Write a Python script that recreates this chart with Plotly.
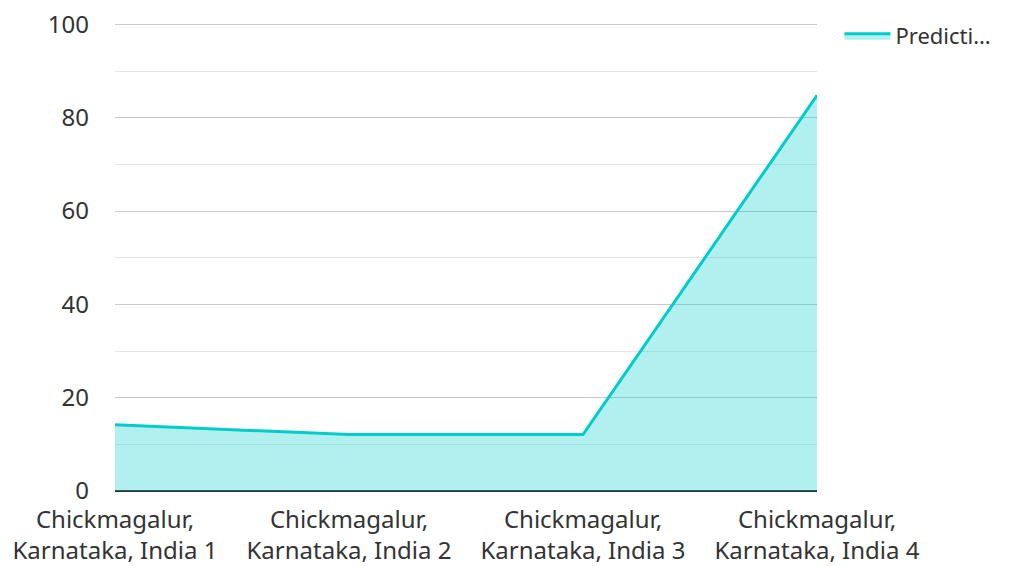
import plotly.graph_objects as go

categories = ["Chickmagalur,<br>Karnataka, India 1", "Chickmagalur,<br>Karnataka, India 2",
              "Chickmagalur,<br>Karnataka, India 3", "Chickmagalur,<br>Karnataka, India 4"]
values = [14.2, 12.1, 12.1, 84.8]
series_name = "Predicti…"
y_ticks = [0, 20, 40, 60, 80, 100]

fig = go.Figure()
fig.add_trace(go.Scatter(
    x=categories, y=values, name=series_name, mode="lines",
    line=dict(color="#00CCCC", width=3),
    fill="tozeroy", fillcolor="rgba(0,204,204,0.3)",
))

# page body has an 8px margin; the figure size/margins compensate for it
fig.update_layout(
    width=1001, height=558,
    margin=dict(l=107, r=192, t=15, b=75, autoexpand=False),
    paper_bgcolor="white", plot_bgcolor="white",
    font=dict(family="Noto Sans, Open Sans, sans-serif", size=24, color="#333333"),
    showlegend=True,
    legend=dict(x=1.032, y=1.017, xanchor="left", yanchor="top", itemwidth=46,
                font=dict(size=22, color="#333333"), bgcolor="rgba(0,0,0,0)"),
    xaxis=dict(type="category", range=[0, 3], showgrid=False, zeroline=False,
               showline=False, ticks="", ticklabelstandoff=12, tickfont=dict(size=24, color="#333333")),
    yaxis=dict(range=[0, 100.3], tickvals=y_ticks, showgrid=True, gridcolor="#c8c8c8", gridwidth=1,
               zeroline=True, zerolinecolor="#333333", zerolinewidth=2,
               ticks="", ticklabelstandoff=25, ticklabeloverflow="allow",
               tickfont=dict(size=24, color="#333333"),
               minor=dict(dtick=10, showgrid=True, gridcolor="#e6e6e6", gridwidth=1)),
)

fig.write_html("out.html")
